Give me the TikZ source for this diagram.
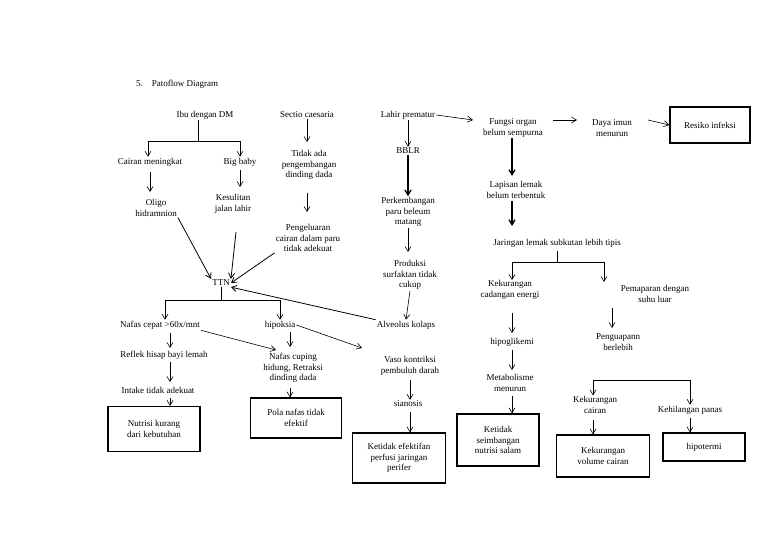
\documentclass[tikz,border=0pt]{standalone}
\usepackage{fontspec}
\setmainfont{Liberation Serif}
\usetikzlibrary{arrows.meta}
\begin{document}
\begin{tikzpicture}[x=1pt,y=-1pt,
  t/.style={font=\fontsize{9}{10.5}\selectfont,align=center,inner sep=1pt},
  bx/.style={t,draw,line width=1.2pt,minimum width=#1,minimum height=30pt},
  ar/.style={-{Straight Barb[length=5pt,width=6pt]},line width=0.6pt},
  tk/.style={-{Straight Barb[length=5pt,width=6pt]},line width=1.3pt}]
\useasboundingbox (0,0) rectangle (768,543);
\node[t,anchor=west] (title) at (135,84) {5.\quad Patoflow Diagram};
\node[t] (ibu) at (205,115) {Ibu dengan DM};
\node[t] (sc) at (307,115) {Sectio caesaria};
\node[t] (lp) at (408,115) {Lahir prematur};
\node[t] (fo) at (513,128) {Fungsi organ\\belum sempurna};
\node[t] (di) at (612,128) {Daya imun\\menurun};
\node[bx=80pt,minimum height=36pt] (ri) at (710,125) {Resiko infeksi};
\node[t] (cm) at (150,162) {Cairan meningkat};
\node[t] (bb) at (240,162) {Big baby};
\node[t] (oh) at (156,208) {Oligo\\hidramnion};
\node[t] (kj) at (233,204) {Kesulitan\\jalan lahir};
\node[t] (td) at (309,165) {Tidak ada\\pengembangan\\dinding dada};
\node[t] (pc) at (308,238) {Pengeluaran\\cairan dalam paru\\tidak adekuat};
\node[t] (bl) at (408,151) {BBLR};
\node[t] (pp) at (408,212) {Perkembangan\\paru beleum\\matang};
\node[t] (ps) at (410,275) {Produksi\\surfaktan tidak\\cukup};
\node[t] (ak) at (406,325) {Alveolus kolaps};
\node[t] (ttn) at (221,283) {TTN};
\node[t] (nc) at (160,325) {Nafas cepat >60x/mnt};
\node[t] (hk) at (280,325) {hipoksia};
\node[t] (rh) at (164,355) {Reflek hisap bayi lemah};
\node[t] (it) at (158,390) {Intake tidak adekuat};
\node[bx=92pt,minimum height=45pt] (nk) at (154,429) {Nutrisi kurang\\dari kebutuhan};
\node[t] (ncu) at (293,368) {Nafas cuping\\hidung, Retraksi\\dinding dada};
\node[bx=91pt,minimum height=40pt] (pn) at (296,418) {Pola nafas tidak\\efektif};
\node[t] (vk) at (410,366) {Vaso kontriksi\\pembuluh darah};
\node[t] (si) at (408,404) {sianosis};
\node[bx=93pt,minimum height=50pt] (ke) at (399,458) {Ketidak efektifan\\perfusi jaringan\\perifer};
\node[t] (ll) at (516,190) {Lapisan lemak\\belum terbentuk};
\node[t] (jl) at (557,243) {Jaringan lemak subkutan lebih tipis};
\node[t] (kc) at (510,290) {Kekurangan\\cadangan energi};
\node[t] (hg) at (512,342) {hipoglikemi};
\node[t] (mm) at (510,383) {Metabolisme\\menurun};
\node[bx=82pt,minimum height=52pt] (kn) at (498,440) {Ketidak\\seimbangan\\nutrisi salam};
\node[t] (pd) at (655,294) {Pemaparan dengan\\suhu luar};
\node[t] (pb) at (618,342) {Penguapann\\berlebih};
\node[t] (kca) at (595,405) {Kekurangan\\cairan};
\node[t] (kp) at (690,410) {Kehilangan panas};
\node[bx=93pt,minimum height=42pt] (kv) at (603,456) {Kekurangan\\volume cairan};
\node[bx=82pt,minimum height=28pt] (ht) at (704,447) {hipotermi};
% Ibu bracket
\coordinate (b1) at (198,141);
\draw (ibu.south -| b1) -- (b1);
\draw[ar] (148,141) -- (cm.north -| 148,0);
\draw (148,141) -- (240,141);
\draw[ar] (240,141) -- (bb.north);
\draw[ar] (150,172) -- (150,192);
\draw[ar] (240,170) -- (240,187);
\draw[ar] (sc.south) -- (307,142);
\draw[ar] (307,193) -- (307,212);
\draw[ar] (lp.south) -- (bl.north);
\draw[tk] (bl.south) -- (pp.north);
\draw[ar] (pp.south) -- (408,252);
\draw[ar] (ps.south) -- (ak.north);
\draw[ar,line width=0.8pt] (oh.south east) -- (ttn.north west);
\draw[ar,line width=0.8pt] (236,232) -- (ttn.north east);
\draw[ar,line width=0.8pt] (pc.south west) -- (ttn.east);
\draw[ar,line width=0.8pt] (ak.north west) -- (ttn.south east);
% TTN bracket
\draw (ttn.south) -- (221,300);
\draw (165,300) -- (280,300);
\draw[ar] (165,300) -- (nc.north -| 165,0);
\draw[ar] (280,300) -- (hk.north);
\draw[ar] (170,333) -- (170,348);
\draw[ar] (nc.south east) -- (276,350);
\draw[ar] (170,362) -- (170,382);
\draw[ar] (170,398) -- (nk.north -| 170,0);
\draw[ar] (290,332) -- (290,347);
\draw[ar] (hk.east) -- (362,348);
\draw[ar] (290,388) -- (pn.north -| 290,0);
\draw[ar] (410,380) -- (si.north -| 410,0);
\draw[ar] (410,412) -- (ke.north -| 410,0);
% right side
\draw[ar] (lp.east) -- (473,120);
\draw[ar] (553,120) -- (577,120);
\draw[ar] (648,120) -- (ri.west);
\draw[tk] (fo.south -| 512,0) -- (512,176);
\draw[tk] (512,201) -- (512,226);
\draw (557,251) -- (557,262);
\draw (512,262) -- (604,262);
\draw[ar] (512,262) -- (512,280);
\draw[ar] (604,262) -- (604,282);
\draw[ar] (512,313) -- (512,333);
\draw[ar] (512,350) -- (512,370);
\draw[ar] (512,396) -- (kn.north -| 512,0);
\draw[ar] (612,308) -- (612,328);
\draw (593,380) -- (690,380);
\draw[ar] (593,380) -- (kca.north -| 593,0);
\draw[ar] (690,380) -- (kp.north -| 690,0);
\draw[ar] (593,420) -- (kv.north -| 593,0);
\draw[ar] (690,418) -- (ht.north -| 690,0);
\end{tikzpicture}
\end{document}
